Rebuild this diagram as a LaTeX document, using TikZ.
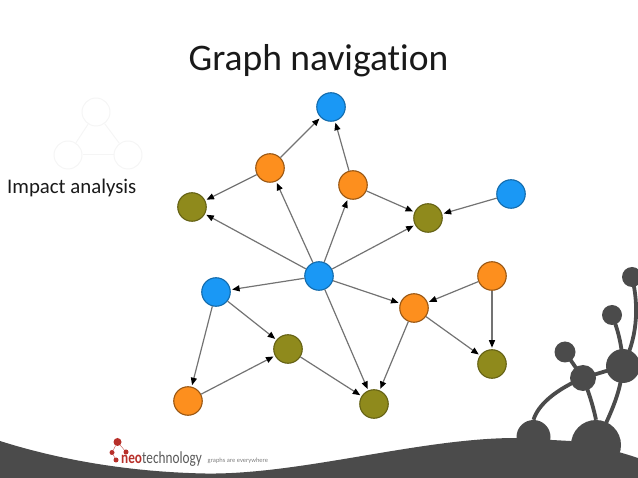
\documentclass[tikz,border=0pt]{standalone}
\usepackage{fontspec}
\setmainfont[Ligatures=NoCommon]{Carlito}
\usetikzlibrary{arrows.meta}
\definecolor{nblue}{HTML}{1A98F5}
\definecolor{norange}{HTML}{FD8F1E}
\definecolor{nolive}{HTML}{8F8A1C}
\definecolor{dk}{HTML}{4B4B4B}
\definecolor{logored}{HTML}{B8302A}
\tikzset{
  gn/.style={circle,draw,line width=1.1pt,minimum size=28.5pt,inner sep=0pt},
  bl/.style={gn,fill=nblue,draw=nblue!70!black},
  og/.style={gn,fill=norange,draw=norange!60!black},
  ol/.style={gn,fill=nolive,draw=nolive!70!black},
  edge/.style={draw=black!55,line width=1.2pt,-{Triangle[length=7.5pt,width=6pt,color=black]},shorten >=1.5pt},
  ghost/.style={draw=black!4,line width=1pt,circle,minimum size=28pt,inner sep=0pt},
  stem/.style={draw=dk,line width=3.8pt},
  bub/.style={circle,fill=dk,inner sep=0pt},
  rd/.style={circle,fill=logored,inner sep=0pt}
}
\begin{document}
\begin{tikzpicture}[x=1pt,y=-1pt]
\useasboundingbox (0,0) rectangle (638,478);
% ghost icon
\node[ghost] (g1) at (96,112) {};
\node[ghost] (g2) at (68,155) {};
\node[ghost] (g3) at (128,155) {};
\draw[draw=black!4,line width=1pt] (g1) -- (g2);
\draw[draw=black!4,line width=1pt] (g1) -- (g3);
\draw[draw=black!4,line width=1pt] (g2) -- (g3);
% swoosh
\fill[dk] (0,441) .. controls (60,460) and (130,472) .. (205,473.5)
  .. controls (300,475) and (420,438) .. (516,438) -- (570,441)
  .. controls (595,445) and (620,452) .. (638,458) -- (638,478) -- (0,478) -- cycle;
% bubbles
\node[bub,minimum size=34pt] (b1) at (533.5,437) {};
\node[bub,minimum size=50pt] (b2) at (596,445) {};
\node[bub,minimum size=26pt] (b3) at (583,378) {};
\node[bub,minimum size=34pt] (b4) at (623,366) {};
\node[bub,minimum size=21pt] (b5) at (565,352) {};
\node[bub,minimum size=20pt] (b6) at (612,315) {};
\node[bub,minimum size=20pt] (b7) at (632,277) {};
\draw[stem] (b1.north) .. controls (538,405) and (555,390) .. (b3.center);
\draw[stem] (b3.center) .. controls (590,395) and (594,410) .. (b2.north);
\draw[stem] (b4.center) .. controls (620,395) and (612,410) .. (b2.center);
\draw[stem] (b3.center) -- (b4.center);
\draw[stem] (b3.center) -- (b5.center);
\draw[stem] (b6.center) .. controls (618,330) and (622,345) .. (b4.center);
\draw[stem] (b7.center) .. controls (640,310) and (636,340) .. (b4.center);
% graph nodes
\node[bl] (top) at (331,107) {};
\node[og] (o1) at (270,168) {};
\node[og] (o2) at (353,185) {};
\node[ol] (l1) at (192,207) {};
\node[ol] (l2) at (428,218) {};
\node[bl] (br) at (511,194) {};
\node[bl] (c) at (319,276) {};
\node[og] (ort) at (492,276) {};
\node[bl] (bleft) at (216,292) {};
\node[og] (o3) at (414,308) {};
\node[ol] (l3) at (288,349) {};
\node[ol] (l4) at (492,364) {};
\node[og] (o4) at (188,401) {};
\node[ol] (l5) at (374,404) {};
\foreach \a/\b in {o1/top,o2/top,o1/l1,o2/l2,br/l2,c/l1,c/o1,c/o2,c/l2,c/bleft,c/o3,c/l5,ort/o3,ort/l4,o3/l4,o3/l5,bleft/l3,bleft/o4,o4/l3,l3/l5}
  \draw[edge] (\a) -- (\b);
% texts
\node[font=\fontsize{37.5}{40}\selectfont,text=black!90] (title) at (318.5,61) {Graph navigation};
\node[font=\fontsize{20.8}{24}\selectfont,anchor=west,inner sep=0pt,text=black!90] (impact) at (7,188) {Impact analysis};
% logo
\node[rd,minimum size=8pt] (r1) at (117.5,442) {};
\node[rd,minimum size=5pt] (r2) at (112,452.5) {};
\node[rd,minimum size=5pt] (r3) at (126,452) {};
\node[rd,minimum size=5pt] (r4) at (116,460) {};
\draw[logored,line width=0.3pt] (r1) -- (r2);
\draw[logored,line width=0.3pt] (r1) -- (r3);
\draw[logored,line width=0.3pt] (r2) -- (r4);
\node[anchor=base west,inner sep=0pt,font=\fontsize{17}{18}\selectfont] (logo) at (121,464) {\addfontfeature{FakeStretch=0.78}\textcolor{logored}{\textbf{neo}}\textcolor{black!65}{technology}};
\node[anchor=base west,inner sep=0pt,font=\fontsize{6.5}{8}\selectfont,text=black!50] (tag) at (207.5,463) {graphs are everywhere};
\end{tikzpicture}
\end{document}
